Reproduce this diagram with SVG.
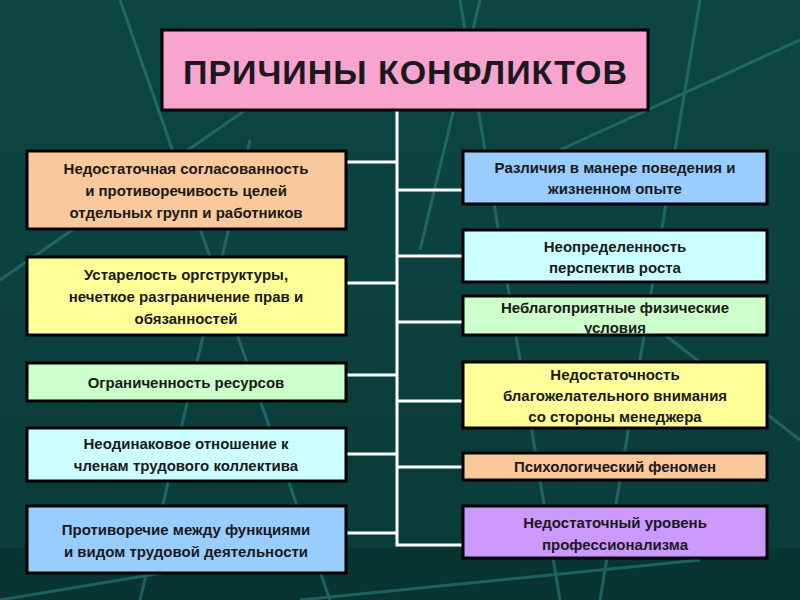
<svg xmlns="http://www.w3.org/2000/svg" width="800" height="600" viewBox="0 0 800 600">
<defs>
<style>
.b{stroke:#000;stroke-width:3}
.t{font-family:"Liberation Sans",Arial,sans-serif;font-weight:bold;font-size:15px;fill:#1a1a1a;text-anchor:middle}
.c{stroke:#fff;stroke-width:3;fill:none}
.d{stroke:#2f8078;stroke-width:3;fill:none;opacity:.6}
</style>
<linearGradient id="bg" x1="0" y1="0" x2="0" y2="1"><stop offset="0" stop-color="#0c4643"/><stop offset="1" stop-color="#0a3b38"/></linearGradient>
</defs>
<rect width="800" height="600" fill="url(#bg)"/>
<rect y="548" width="800" height="52" fill="#083431"/>
<g id="bglines">
<path class="d" d="M120 0 L330 600 M250 140 L140 600 M460 0 L560 600 M700 0 L600 600 M0 280 L260 100 M560 150 L800 40 M620 300 L800 440 M0 600 L240 560 M300 600 L700 560 M480 0 L420 250"/>
</g>
<g id="connectors">
<path class="c" d="M397 110 V545 H465"/>
<path class="c" d="M346 162 H397 M346 283 H397 M346 375 H397 M346 454 H397 M346 533 H397"/>
<path class="c" d="M397 190 H463 M397 256 H463 M397 322 H463 M397 401 H463 M397 467 H463"/>
</g>
<g id="title"><rect class="b" x="162" y="30" width="486" height="80" fill="#f9a3cf"/><text x="405" y="84" textLength="444" style="font-family:'Liberation Sans',Arial,sans-serif;font-weight:bold;font-size:34px;fill:#1a1a1a;text-anchor:middle">ПРИЧИНЫ КОНФЛИКТОВ</text></g>
<g id="l1"><rect class="b" x="27" y="151" width="319" height="78" fill="#f9c89b"/><text class="t" x="186" y="174">Недостаточная согласованность</text><text class="t" x="186" y="196">и противоречивость целей</text><text class="t" x="186" y="218">отдельных групп и работников</text></g>
<g id="l2"><rect class="b" x="27" y="257" width="319" height="78" fill="#ffff99"/><text class="t" x="186" y="280">Устарелость оргструктуры,</text><text class="t" x="186" y="302">нечеткое разграничение прав и</text><text class="t" x="186" y="324">обязанностей</text></g>
<g id="l3"><rect class="b" x="27" y="363" width="319" height="38" fill="#ccffcc"/><text class="t" x="186" y="388">Ограниченность ресурсов</text></g>
<g id="l4"><rect class="b" x="27" y="428" width="319" height="53" fill="#ccffff"/><text class="t" x="186" y="449">Неодинаковое отношение к</text><text class="t" x="186" y="471">членам трудового коллектива</text></g>
<g id="l5"><rect class="b" x="27" y="506" width="319" height="67" fill="#99ccff"/><text class="t" x="186" y="535">Противоречие между функциями</text><text class="t" x="186" y="557">и видом трудовой деятельности</text></g>
<g id="r1"><rect class="b" x="463" y="151" width="304" height="53" fill="#99ccff"/><text class="t" x="615" y="173">Различия в манере поведения и</text><text class="t" x="615" y="194">жизненном опыте</text></g>
<g id="r2"><rect class="b" x="463" y="230" width="304" height="52" fill="#ccffff"/><text class="t" x="615" y="252">Неопределенность</text><text class="t" x="615" y="273">перспектив роста</text></g>
<g id="r3"><rect class="b" x="463" y="296" width="304" height="39" fill="#ccffcc"/><text class="t" x="615" y="313">Неблагоприятные физические</text><text class="t" x="615" y="333">условия</text></g>
<g id="r4"><rect class="b" x="463" y="362" width="304" height="66" fill="#ffff99"/><text class="t" x="615" y="380">Недостаточность</text><text class="t" x="615" y="401">благожелательного внимания</text><text class="t" x="615" y="422">со стороны менеджера</text></g>
<g id="r5"><rect class="b" x="463" y="453" width="304" height="27" fill="#f9c89b"/><text class="t" x="615" y="472">Психологический феномен</text></g>
<g id="r6"><rect class="b" x="463" y="506" width="304" height="52" fill="#cc99ff"/><text class="t" x="615" y="528">Недостаточный уровень</text><text class="t" x="615" y="550">профессионализма</text></g>
</svg>
